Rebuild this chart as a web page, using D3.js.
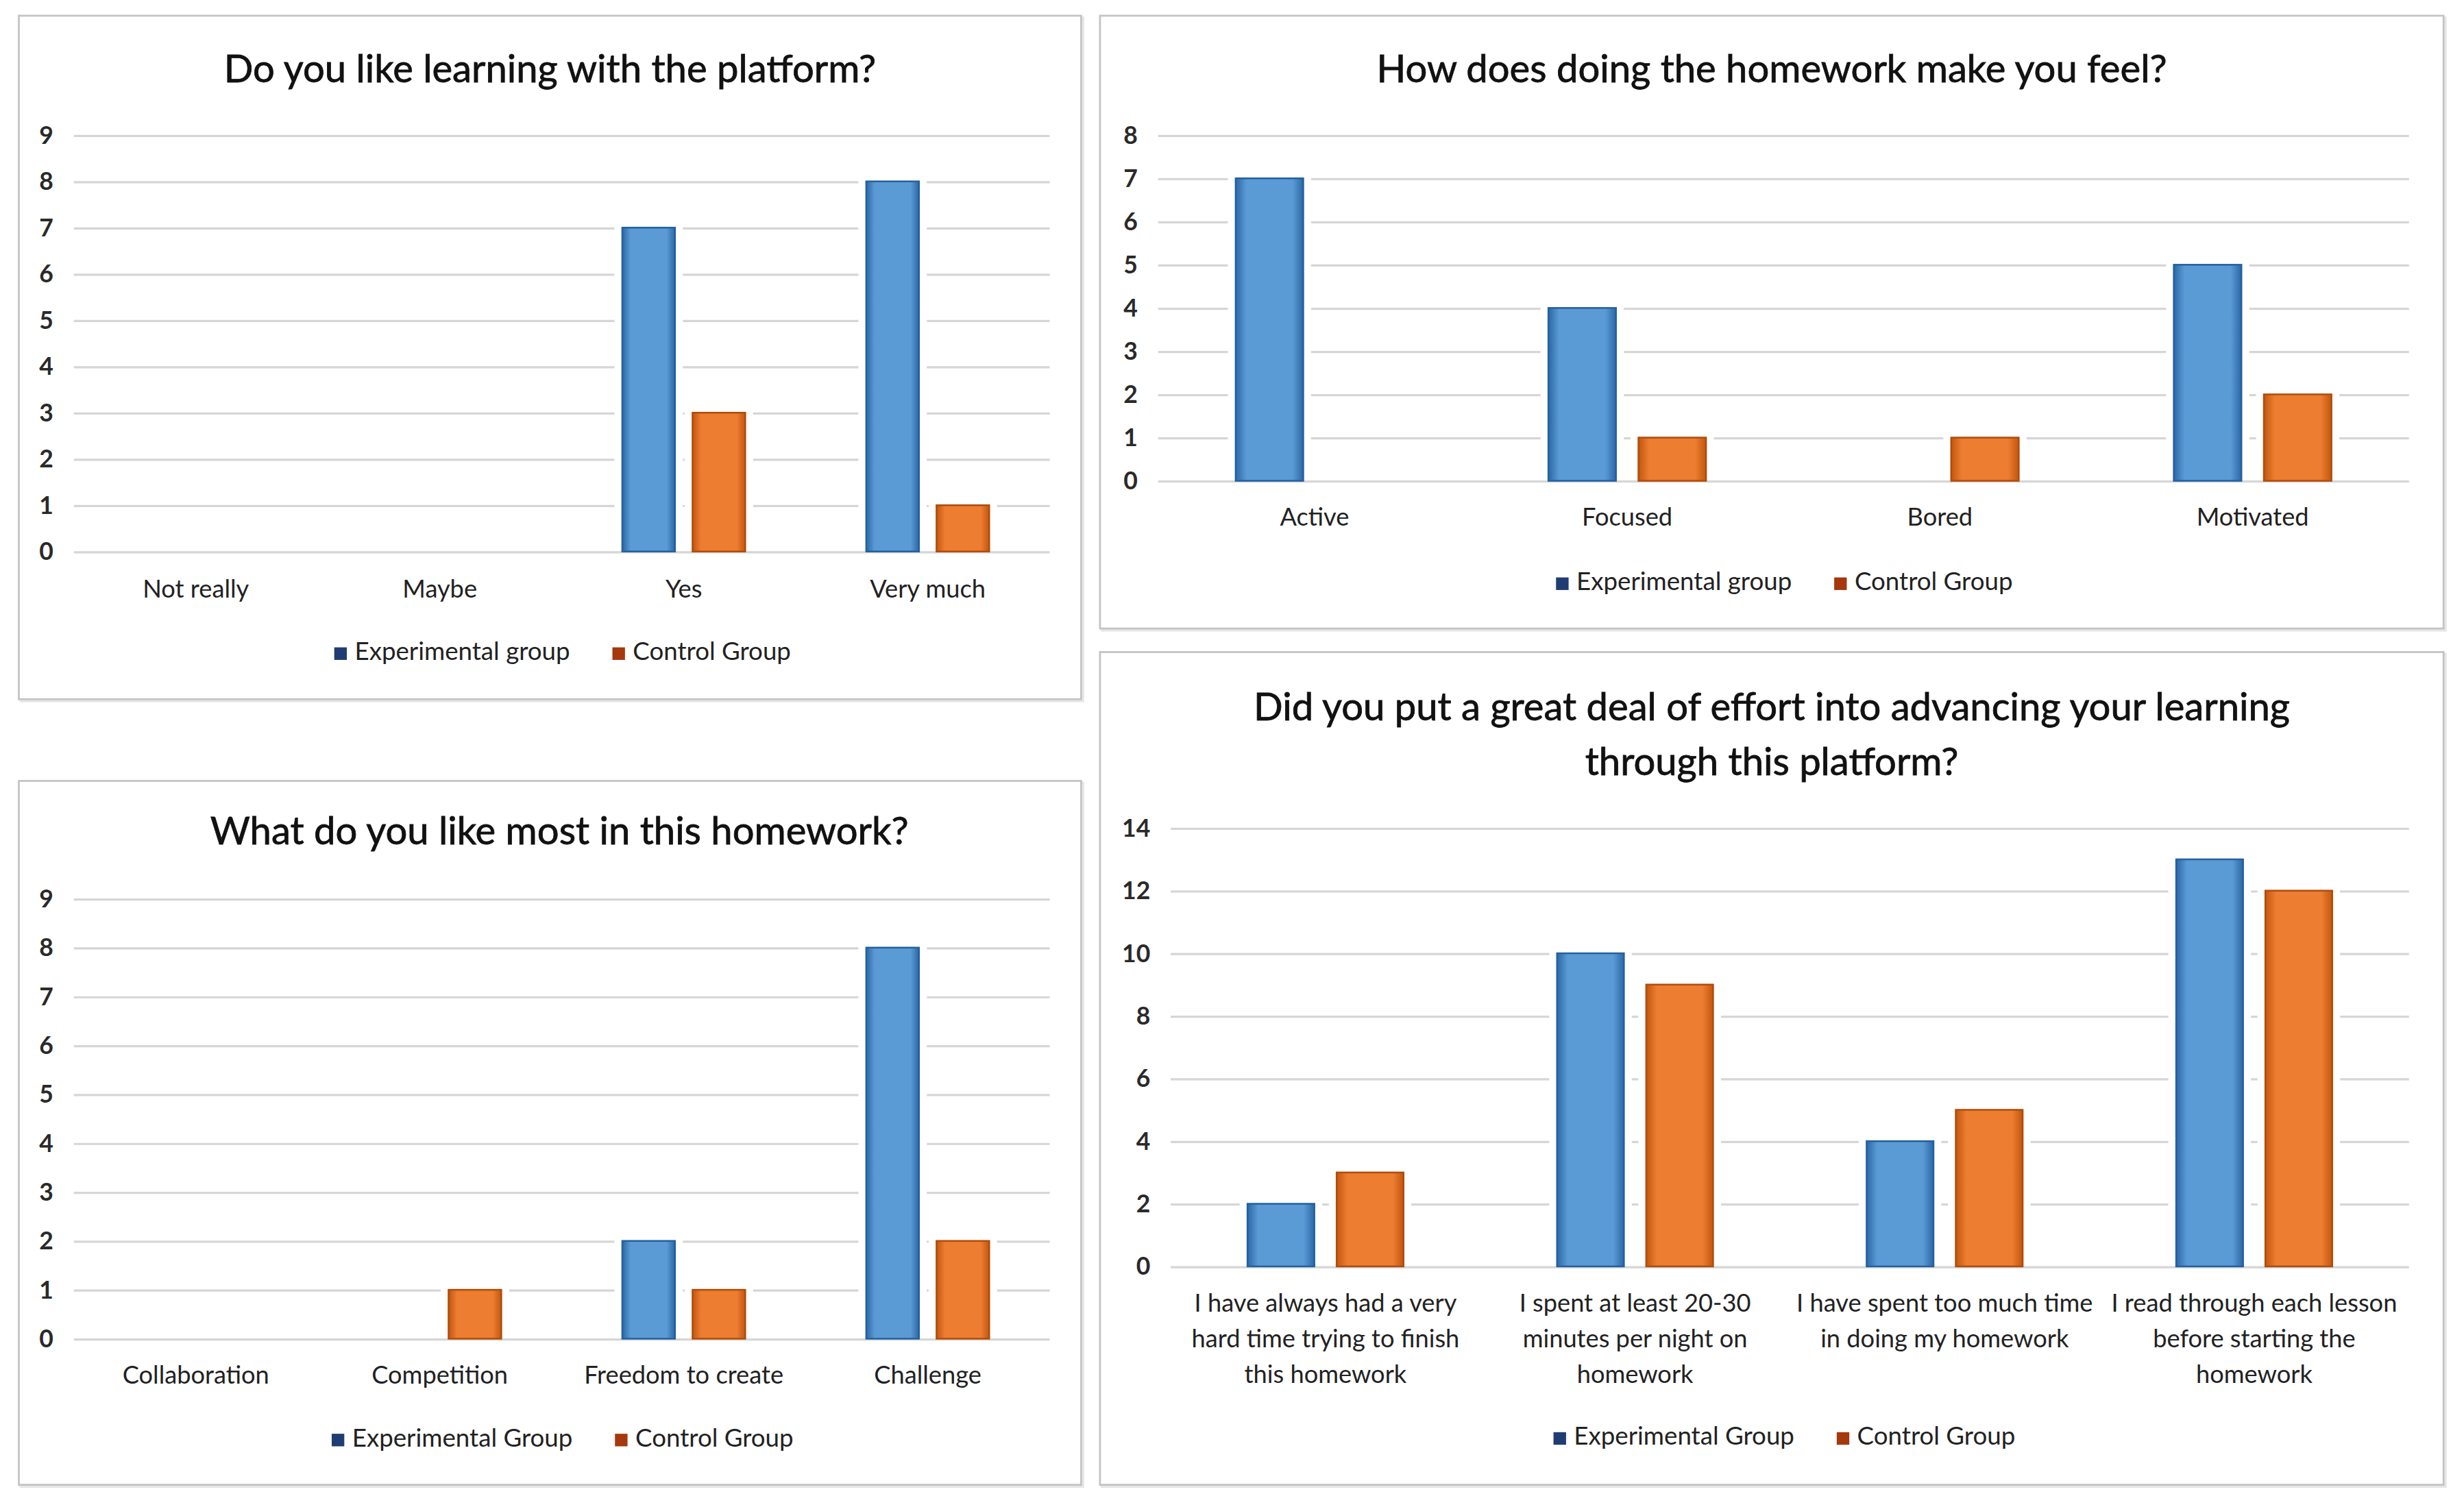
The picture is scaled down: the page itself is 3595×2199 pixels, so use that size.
<!DOCTYPE html>
<html>
<head>
<meta charset="utf-8">
<script src="https://cdn.jsdelivr.net/npm/d3@7"></script>
<style>
  html, body { margin: 0; padding: 0; background: #fff; }
  svg { display: block; }
  text { font-family: Lato, "Open Sans", sans-serif; }
</style>
</head>
<body>
<svg id="chart"></svg>
<script>
// data
var seriesA = ["Experimental group", "Control Group"];
var seriesB = ["Experimental Group", "Control Group"];

var cats1 = ["Not really", "Maybe", "Yes", "Very much"];
var exp1 = [0, 0, 7, 8];
var ctl1 = [0, 0, 3, 1];
var ticks1 = [0, 1, 2, 3, 4, 5, 6, 7, 8, 9];

var cats2 = ["Active", "Focused", "Bored", "Motivated"];
var exp2 = [7, 4, 0, 5];
var ctl2 = [0, 1, 1, 2];
var ticks2 = [0, 1, 2, 3, 4, 5, 6, 7, 8];

var cats3 = ["Collaboration", "Competition", "Freedom to create", "Challenge"];
var exp3 = [0, 0, 2, 8];
var ctl3 = [0, 1, 1, 2];
var ticks3 = [0, 1, 2, 3, 4, 5, 6, 7, 8, 9];

var cats4 = [
  "I have always had a very|hard time trying to finish|this homework",
  "I spent at least 20-30|minutes per night on|homework",
  "I have spent too much time|in doing my homework",
  "I read through each lesson|before starting the|homework"
];
var exp4 = [2, 10, 4, 13];
var ctl4 = [3, 9, 5, 12];
var ticks4 = [0, 2, 4, 6, 8, 10, 12, 14];

// layout (drawn in a 1568 x 959 space and scaled up)
var W = 3595, H = 2199;
var S = W / 1568;

var svg = d3.select("#chart").attr("width", W).attr("height", H);
var defs = svg.append("defs");

function grad(id, edge, mid) {
  var g = defs.append("linearGradient").attr("id", id)
    .attr("x1", 0).attr("x2", 1).attr("y1", 0).attr("y2", 0);
  g.append("stop").attr("offset", 0).attr("stop-color", edge);
  g.append("stop").attr("offset", 0.16).attr("stop-color", mid);
  g.append("stop").attr("offset", 0.84).attr("stop-color", mid);
  g.append("stop").attr("offset", 1).attr("stop-color", edge);
}
grad("gBlue", "#2b68a7", "#5b9bd5");
grad("gOrange", "#c2570f", "#ed7d31");

var barFill = ["url(#gBlue)", "url(#gOrange)"];
var barStroke = ["#24609f", "#b04c0b"];
var keyColor = ["#1f3d72", "#a5380c"];

var root = svg.append("g").attr("transform", "scale(" + S + ")");

var panels = [
  {box: [12, 10, 676, 435], x0: 47, x1: 668, yTop: 86, yBot: 351,
   titles: ["Do you like learning with the platform?"], titleY: 46, titleDx: 0,
   labelY: 376.5, legendY: 416, cats: cats1, exp: exp1, ctl: ctl1, ticks: ticks1, series: seriesA},
  {box: [700, 10, 855, 390], x0: 737, x1: 1533, yTop: 86, yBot: 306,
   titles: ["How does doing the homework make you feel?"], titleY: 46, titleDx: 0,
   labelY: 330.5, legendY: 371.5, cats: cats2, exp: exp2, ctl: ctl2, ticks: ticks2, series: seriesA},
  {box: [12, 497, 676, 448], x0: 47, x1: 668, yTop: 572, yBot: 852,
   titles: ["What do you like most in this homework?"], titleY: 531, titleDx: 6,
   labelY: 876.5, legendY: 916.5, cats: cats3, exp: exp3, ctl: ctl3, ticks: ticks3, series: seriesB},
  {box: [700, 415, 855, 530], x0: 745, x1: 1533, yTop: 527, yBot: 806,
   titles: ["Did you put a great deal of effort into advancing your learning", "through this platform?"], titleY: 452, titleDx: 0,
   labelY: 831, legendY: 915.5, cats: cats4, exp: exp4, ctl: ctl4, ticks: ticks4, series: seriesB}
];

panels.forEach(function(p) {
  var g = root.append("g");

  g.append("rect")
    .attr("x", p.box[0] + 1.2).attr("y", p.box[1] + 1.2)
    .attr("width", p.box[2]).attr("height", p.box[3])
    .attr("fill", "none").attr("stroke", "#e6e6e6").attr("stroke-width", 1.5);
  g.append("rect")
    .attr("x", p.box[0]).attr("y", p.box[1])
    .attr("width", p.box[2]).attr("height", p.box[3])
    .attr("fill", "#fff").attr("stroke", "#c3c3c3").attr("stroke-width", 1.2);

  var cx = p.box[0] + p.box[2] / 2;
  p.titles.forEach(function(t, i) {
    g.append("text")
      .attr("x", cx + p.titleDx).attr("y", p.titleY + i * 35)
      .attr("text-anchor", "middle").attr("dominant-baseline", "middle")
      .attr("font-size", 24.5).attr("fill", "#111")
      .attr("stroke", "#111").attr("stroke-width", 0.35)
      .text(t);
  });

  var y = d3.scaleLinear()
    .domain([0, d3.max(p.ticks)])
    .range([p.yBot, p.yTop]);

  var x0 = d3.scaleBand().domain(p.cats).range([p.x0, p.x1]);
  var bw = x0.bandwidth();
  var x1 = d3.scaleBand().domain([0, 1]).range([0, 0.504 * bw]).paddingInner(0.25);
  var off = (bw - 0.504 * bw) / 2;

  var axis = g.append("g")
    .attr("transform", "translate(" + p.x0 + ",0)")
    .call(d3.axisLeft(y).tickValues(p.ticks).tickSize(-(p.x1 - p.x0)).tickPadding(13));
  axis.select(".domain").remove();
  axis.selectAll(".tick line").attr("stroke", "#d6d6d6").attr("stroke-width", 1.4);
  axis.selectAll(".tick text")
    .attr("font-family", "Lato, sans-serif")
    .attr("font-size", 15.5).attr("font-weight", 700).attr("fill", "#2a2a2a");

  var rows = [];
  p.cats.forEach(function(c, i) {
    rows.push({cat: c, s: 0, v: p.exp[i]});
    rows.push({cat: c, s: 1, v: p.ctl[i]});
  });
  rows = rows.filter(function(d) { return d.v > 0; });

  // white halo behind the bars
  g.selectAll("rect.halo").data(rows).enter().append("rect")
    .attr("class", "halo")
    .attr("x", function(d) { return x0(d.cat) + off + x1(d.s) - 5; })
    .attr("y", function(d) { return y(d.v) - 1; })
    .attr("width", x1.bandwidth() + 10)
    .attr("height", function(d) { return y(0) - y(d.v) + 0.3; })
    .attr("fill", "#fff");

  g.selectAll("rect.bar").data(rows).enter().append("rect")
    .attr("class", "bar")
    .attr("x", function(d) { return x0(d.cat) + off + x1(d.s); })
    .attr("y", function(d) { return y(d.v); })
    .attr("width", x1.bandwidth())
    .attr("height", function(d) { return y(0) - y(d.v); })
    .attr("fill", function(d) { return barFill[d.s]; })
    .attr("stroke", function(d) { return barStroke[d.s]; })
    .attr("stroke-width", 1.1);

  // category labels
  p.cats.forEach(function(c) {
    var t = g.append("text")
      .attr("text-anchor", "middle")
      .attr("font-size", 15.8).attr("fill", "#222");
    c.split("|").forEach(function(line, i) {
      t.append("tspan")
        .attr("x", x0(c) + bw / 2)
        .attr("y", p.labelY + i * 22.5)
        .attr("dominant-baseline", "middle")
        .text(line);
    });
  });

  // legend
  var lg = g.append("g");
  var xpos = 0;
  p.series.forEach(function(name, i) {
    var item = lg.append("g").attr("transform", "translate(" + xpos + ",0)");
    item.append("rect")
      .attr("x", 0).attr("y", p.legendY - 4)
      .attr("width", 8).attr("height", 8)
      .attr("fill", keyColor[i]);
    var txt = item.append("text")
      .attr("x", 13).attr("y", p.legendY)
      .attr("dominant-baseline", "middle")
      .attr("font-size", 16).attr("fill", "#222")
      .text(name);
    xpos += 13 + txt.node().getComputedTextLength() + 27;
  });
  var lw = xpos - 27;
  lg.attr("transform", "translate(" + (cx + 8 - lw / 2) + ",0)");
});
</script>
</body>
</html>
